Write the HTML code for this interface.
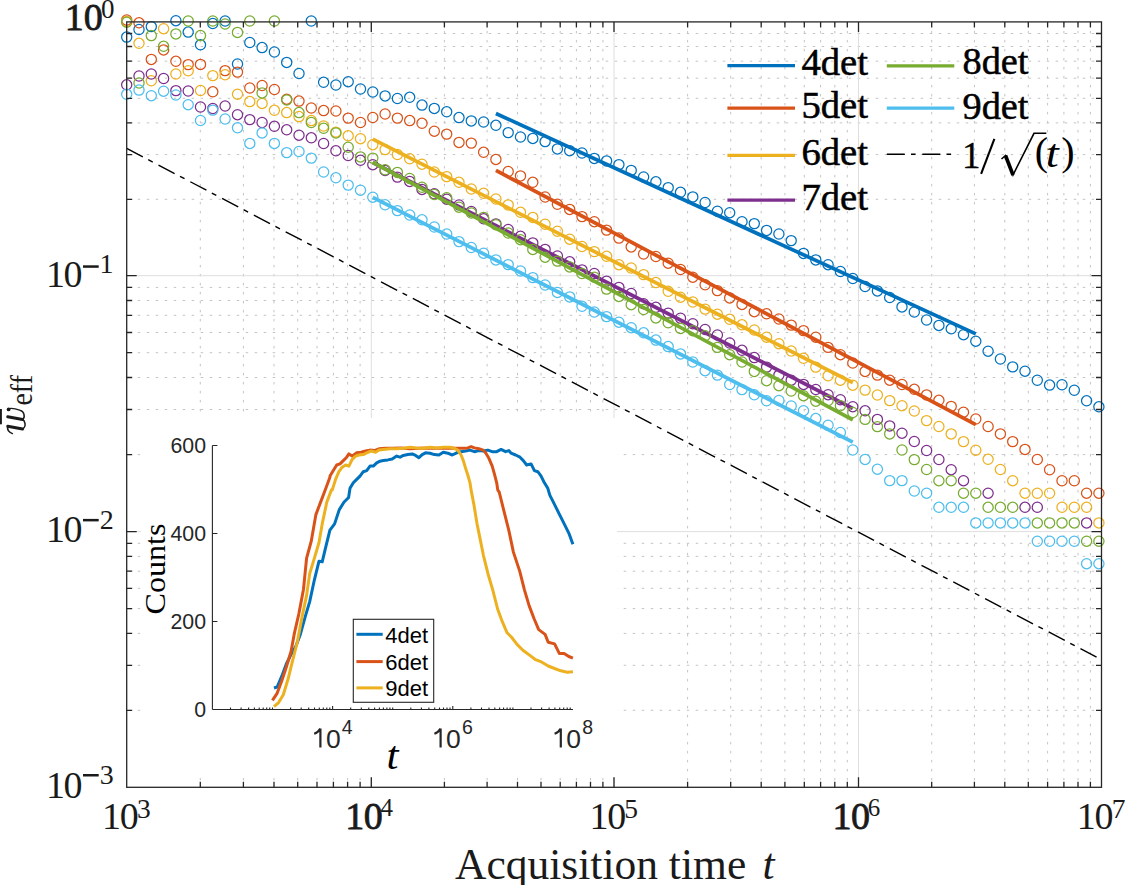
<!DOCTYPE html><html><head><meta charset="utf-8"><style>html,body{margin:0;padding:0;background:#fff;overflow:hidden}svg{display:block}text{font-family:"Liberation Serif",serif}.s{font-family:"Liberation Sans",sans-serif}</style></head><body>
<svg width="1125" height="885" viewBox="0 0 1125 885">
<rect width="1125" height="885" fill="#fff"/>
<path d="M200.3 21.9V787.3M243.4 21.9V787.3M274.0 21.9V787.3M297.7 21.9V787.3M317.0 21.9V787.3M333.4 21.9V787.3M347.6 21.9V787.3M360.1 21.9V787.3M444.4 21.9V787.3M487.1 21.9V787.3M517.5 21.9V787.3M541.0 21.9V787.3M560.2 21.9V787.3M576.4 21.9V787.3M590.5 21.9V787.3M602.9 21.9V787.3M687.6 21.9V787.3M730.7 21.9V787.3M761.2 21.9V787.3M784.9 21.9V787.3M804.3 21.9V787.3M820.6 21.9V787.3M834.8 21.9V787.3M847.3 21.9V787.3M931.7 21.9V787.3M974.4 21.9V787.3M1004.8 21.9V787.3M1028.3 21.9V787.3M1047.6 21.9V787.3M1063.9 21.9V787.3M1078.0 21.9V787.3M1090.4 21.9V787.3" stroke="#c4c4c4" stroke-width="1" stroke-dasharray="2.5 6.5" fill="none"/>
<path d="M126.7 710.3H1101.5M126.7 665.3H1101.5M126.7 633.4H1101.5M126.7 608.6H1101.5M126.7 588.3H1101.5M126.7 571.2H1101.5M126.7 556.4H1101.5M126.7 543.3H1101.5M126.7 454.6H1101.5M126.7 409.5H1101.5M126.7 377.5H1101.5M126.7 352.7H1101.5M126.7 332.5H1101.5M126.7 315.3H1101.5M126.7 300.5H1101.5M126.7 287.4H1101.5M126.7 199.3H1101.5M126.7 154.6H1101.5M126.7 122.9H1101.5M126.7 98.3H1101.5M126.7 78.2H1101.5M126.7 61.2H1101.5M126.7 46.5H1101.5M126.7 33.5H1101.5" stroke="#c4c4c4" stroke-width="1" stroke-dasharray="2.5 6.5" stroke-dashoffset="-2" fill="none"/>
<path d="M371.3 21.9V787.3M614.0 21.9V787.3M858.5 21.9V787.3M126.7 531.6H1101.5M126.7 275.7H1101.5" stroke="#dedede" stroke-width="1" fill="none"/>
<path d="M126.7 148.4L1101.5 659.7" stroke="#000" stroke-width="1.4" stroke-dasharray="18.2 6.1 5.1 6.5" fill="none"/>
<path d="M131.8 37.1a5.1 5.1 0 1 0 -10.2 0a5.1 5.1 0 1 0 10.2 0M144.1 29.5a5.1 5.1 0 1 0 -10.2 0a5.1 5.1 0 1 0 10.2 0M156.4 26.6a5.1 5.1 0 1 0 -10.2 0a5.1 5.1 0 1 0 10.2 0M181.0 20.7a5.1 5.1 0 1 0 -10.2 0a5.1 5.1 0 1 0 10.2 0M193.3 32.1a5.1 5.1 0 1 0 -10.2 0a5.1 5.1 0 1 0 10.2 0M205.6 44.8a5.1 5.1 0 1 0 -10.2 0a5.1 5.1 0 1 0 10.2 0M217.9 23.5a5.1 5.1 0 1 0 -10.2 0a5.1 5.1 0 1 0 10.2 0M230.2 21.0a5.1 5.1 0 1 0 -10.2 0a5.1 5.1 0 1 0 10.2 0M242.6 64.0a5.1 5.1 0 1 0 -10.2 0a5.1 5.1 0 1 0 10.2 0M254.9 42.5a5.1 5.1 0 1 0 -10.2 0a5.1 5.1 0 1 0 10.2 0M267.2 47.6a5.1 5.1 0 1 0 -10.2 0a5.1 5.1 0 1 0 10.2 0M279.5 52.0a5.1 5.1 0 1 0 -10.2 0a5.1 5.1 0 1 0 10.2 0M291.8 62.4a5.1 5.1 0 1 0 -10.2 0a5.1 5.1 0 1 0 10.2 0M304.1 73.5a5.1 5.1 0 1 0 -10.2 0a5.1 5.1 0 1 0 10.2 0M316.4 21.0a5.1 5.1 0 1 0 -10.2 0a5.1 5.1 0 1 0 10.2 0M328.7 82.3a5.1 5.1 0 1 0 -10.2 0a5.1 5.1 0 1 0 10.2 0M341.0 85.0a5.1 5.1 0 1 0 -10.2 0a5.1 5.1 0 1 0 10.2 0M353.3 81.7a5.1 5.1 0 1 0 -10.2 0a5.1 5.1 0 1 0 10.2 0M365.6 89.0a5.1 5.1 0 1 0 -10.2 0a5.1 5.1 0 1 0 10.2 0M377.9 92.0a5.1 5.1 0 1 0 -10.2 0a5.1 5.1 0 1 0 10.2 0M390.2 95.9a5.1 5.1 0 1 0 -10.2 0a5.1 5.1 0 1 0 10.2 0M402.5 98.5a5.1 5.1 0 1 0 -10.2 0a5.1 5.1 0 1 0 10.2 0M414.8 97.3a5.1 5.1 0 1 0 -10.2 0a5.1 5.1 0 1 0 10.2 0M427.1 105.1a5.1 5.1 0 1 0 -10.2 0a5.1 5.1 0 1 0 10.2 0M439.4 108.4a5.1 5.1 0 1 0 -10.2 0a5.1 5.1 0 1 0 10.2 0M451.8 111.8a5.1 5.1 0 1 0 -10.2 0a5.1 5.1 0 1 0 10.2 0M464.1 117.6a5.1 5.1 0 1 0 -10.2 0a5.1 5.1 0 1 0 10.2 0M476.4 120.9a5.1 5.1 0 1 0 -10.2 0a5.1 5.1 0 1 0 10.2 0M488.7 122.0a5.1 5.1 0 1 0 -10.2 0a5.1 5.1 0 1 0 10.2 0M501.0 125.3a5.1 5.1 0 1 0 -10.2 0a5.1 5.1 0 1 0 10.2 0M513.3 132.6a5.1 5.1 0 1 0 -10.2 0a5.1 5.1 0 1 0 10.2 0M525.6 137.0a5.1 5.1 0 1 0 -10.2 0a5.1 5.1 0 1 0 10.2 0M537.9 138.4a5.1 5.1 0 1 0 -10.2 0a5.1 5.1 0 1 0 10.2 0M550.2 141.6a5.1 5.1 0 1 0 -10.2 0a5.1 5.1 0 1 0 10.2 0M562.5 148.9a5.1 5.1 0 1 0 -10.2 0a5.1 5.1 0 1 0 10.2 0M574.8 150.7a5.1 5.1 0 1 0 -10.2 0a5.1 5.1 0 1 0 10.2 0M587.1 153.0a5.1 5.1 0 1 0 -10.2 0a5.1 5.1 0 1 0 10.2 0M599.4 158.4a5.1 5.1 0 1 0 -10.2 0a5.1 5.1 0 1 0 10.2 0M611.7 160.9a5.1 5.1 0 1 0 -10.2 0a5.1 5.1 0 1 0 10.2 0M624.0 164.6a5.1 5.1 0 1 0 -10.2 0a5.1 5.1 0 1 0 10.2 0M636.3 170.4a5.1 5.1 0 1 0 -10.2 0a5.1 5.1 0 1 0 10.2 0M648.7 177.0a5.1 5.1 0 1 0 -10.2 0a5.1 5.1 0 1 0 10.2 0M661.0 181.8a5.1 5.1 0 1 0 -10.2 0a5.1 5.1 0 1 0 10.2 0M673.3 187.6a5.1 5.1 0 1 0 -10.2 0a5.1 5.1 0 1 0 10.2 0M685.6 192.3a5.1 5.1 0 1 0 -10.2 0a5.1 5.1 0 1 0 10.2 0M697.9 196.9a5.1 5.1 0 1 0 -10.2 0a5.1 5.1 0 1 0 10.2 0M710.2 202.5a5.1 5.1 0 1 0 -10.2 0a5.1 5.1 0 1 0 10.2 0M722.5 211.2a5.1 5.1 0 1 0 -10.2 0a5.1 5.1 0 1 0 10.2 0M734.8 212.7a5.1 5.1 0 1 0 -10.2 0a5.1 5.1 0 1 0 10.2 0M747.1 221.7a5.1 5.1 0 1 0 -10.2 0a5.1 5.1 0 1 0 10.2 0M759.4 223.6a5.1 5.1 0 1 0 -10.2 0a5.1 5.1 0 1 0 10.2 0M771.7 230.4a5.1 5.1 0 1 0 -10.2 0a5.1 5.1 0 1 0 10.2 0M784.0 234.0a5.1 5.1 0 1 0 -10.2 0a5.1 5.1 0 1 0 10.2 0M796.3 240.6a5.1 5.1 0 1 0 -10.2 0a5.1 5.1 0 1 0 10.2 0M808.6 253.4a5.1 5.1 0 1 0 -10.2 0a5.1 5.1 0 1 0 10.2 0M820.9 259.9a5.1 5.1 0 1 0 -10.2 0a5.1 5.1 0 1 0 10.2 0M833.2 264.7a5.1 5.1 0 1 0 -10.2 0a5.1 5.1 0 1 0 10.2 0M845.5 271.5a5.1 5.1 0 1 0 -10.2 0a5.1 5.1 0 1 0 10.2 0M857.9 278.5a5.1 5.1 0 1 0 -10.2 0a5.1 5.1 0 1 0 10.2 0M870.2 286.5a5.1 5.1 0 1 0 -10.2 0a5.1 5.1 0 1 0 10.2 0M882.5 290.9a5.1 5.1 0 1 0 -10.2 0a5.1 5.1 0 1 0 10.2 0M894.8 297.5a5.1 5.1 0 1 0 -10.2 0a5.1 5.1 0 1 0 10.2 0M907.1 306.9a5.1 5.1 0 1 0 -10.2 0a5.1 5.1 0 1 0 10.2 0M919.4 312.0a5.1 5.1 0 1 0 -10.2 0a5.1 5.1 0 1 0 10.2 0M931.7 320.0a5.1 5.1 0 1 0 -10.2 0a5.1 5.1 0 1 0 10.2 0M944.0 325.4a5.1 5.1 0 1 0 -10.2 0a5.1 5.1 0 1 0 10.2 0M956.3 328.8a5.1 5.1 0 1 0 -10.2 0a5.1 5.1 0 1 0 10.2 0M968.6 334.7a5.1 5.1 0 1 0 -10.2 0a5.1 5.1 0 1 0 10.2 0M980.9 341.2a5.1 5.1 0 1 0 -10.2 0a5.1 5.1 0 1 0 10.2 0M993.2 351.2a5.1 5.1 0 1 0 -10.2 0a5.1 5.1 0 1 0 10.2 0M1005.5 359.0a5.1 5.1 0 1 0 -10.2 0a5.1 5.1 0 1 0 10.2 0M1017.8 366.9a5.1 5.1 0 1 0 -10.2 0a5.1 5.1 0 1 0 10.2 0M1030.1 371.2a5.1 5.1 0 1 0 -10.2 0a5.1 5.1 0 1 0 10.2 0M1042.4 380.2a5.1 5.1 0 1 0 -10.2 0a5.1 5.1 0 1 0 10.2 0M1054.7 385.1a5.1 5.1 0 1 0 -10.2 0a5.1 5.1 0 1 0 10.2 0M1067.1 384.7a5.1 5.1 0 1 0 -10.2 0a5.1 5.1 0 1 0 10.2 0M1079.4 390.2a5.1 5.1 0 1 0 -10.2 0a5.1 5.1 0 1 0 10.2 0M1091.7 400.8a5.1 5.1 0 1 0 -10.2 0a5.1 5.1 0 1 0 10.2 0M1104.0 406.8a5.1 5.1 0 1 0 -10.2 0a5.1 5.1 0 1 0 10.2 0" stroke="#0072BD" stroke-width="1.25" fill="none"/>
<path d="M495.9 113.5L975.8 333.9" stroke="#0072BD" stroke-width="3.7" fill="none"/>
<path d="M131.8 20.1a5.1 5.1 0 1 0 -10.2 0a5.1 5.1 0 1 0 10.2 0M144.1 22.8a5.1 5.1 0 1 0 -10.2 0a5.1 5.1 0 1 0 10.2 0M156.4 59.4a5.1 5.1 0 1 0 -10.2 0a5.1 5.1 0 1 0 10.2 0M168.7 49.9a5.1 5.1 0 1 0 -10.2 0a5.1 5.1 0 1 0 10.2 0M181.0 61.3a5.1 5.1 0 1 0 -10.2 0a5.1 5.1 0 1 0 10.2 0M193.3 64.6a5.1 5.1 0 1 0 -10.2 0a5.1 5.1 0 1 0 10.2 0M205.6 64.4a5.1 5.1 0 1 0 -10.2 0a5.1 5.1 0 1 0 10.2 0M217.9 91.8a5.1 5.1 0 1 0 -10.2 0a5.1 5.1 0 1 0 10.2 0M230.2 70.6a5.1 5.1 0 1 0 -10.2 0a5.1 5.1 0 1 0 10.2 0M242.6 72.1a5.1 5.1 0 1 0 -10.2 0a5.1 5.1 0 1 0 10.2 0M254.9 88.0a5.1 5.1 0 1 0 -10.2 0a5.1 5.1 0 1 0 10.2 0M267.2 85.5a5.1 5.1 0 1 0 -10.2 0a5.1 5.1 0 1 0 10.2 0M279.5 89.5a5.1 5.1 0 1 0 -10.2 0a5.1 5.1 0 1 0 10.2 0M291.8 99.2a5.1 5.1 0 1 0 -10.2 0a5.1 5.1 0 1 0 10.2 0M304.1 101.1a5.1 5.1 0 1 0 -10.2 0a5.1 5.1 0 1 0 10.2 0M316.4 108.0a5.1 5.1 0 1 0 -10.2 0a5.1 5.1 0 1 0 10.2 0M328.7 110.6a5.1 5.1 0 1 0 -10.2 0a5.1 5.1 0 1 0 10.2 0M341.0 111.0a5.1 5.1 0 1 0 -10.2 0a5.1 5.1 0 1 0 10.2 0M353.3 118.1a5.1 5.1 0 1 0 -10.2 0a5.1 5.1 0 1 0 10.2 0M365.6 122.5a5.1 5.1 0 1 0 -10.2 0a5.1 5.1 0 1 0 10.2 0M377.9 117.5a5.1 5.1 0 1 0 -10.2 0a5.1 5.1 0 1 0 10.2 0M390.2 114.0a5.1 5.1 0 1 0 -10.2 0a5.1 5.1 0 1 0 10.2 0M402.5 118.1a5.1 5.1 0 1 0 -10.2 0a5.1 5.1 0 1 0 10.2 0M414.8 120.6a5.1 5.1 0 1 0 -10.2 0a5.1 5.1 0 1 0 10.2 0M427.1 123.3a5.1 5.1 0 1 0 -10.2 0a5.1 5.1 0 1 0 10.2 0M439.4 131.2a5.1 5.1 0 1 0 -10.2 0a5.1 5.1 0 1 0 10.2 0M451.8 134.1a5.1 5.1 0 1 0 -10.2 0a5.1 5.1 0 1 0 10.2 0M464.1 142.4a5.1 5.1 0 1 0 -10.2 0a5.1 5.1 0 1 0 10.2 0M476.4 143.1a5.1 5.1 0 1 0 -10.2 0a5.1 5.1 0 1 0 10.2 0M488.7 152.3a5.1 5.1 0 1 0 -10.2 0a5.1 5.1 0 1 0 10.2 0M501.0 159.4a5.1 5.1 0 1 0 -10.2 0a5.1 5.1 0 1 0 10.2 0M513.3 171.5a5.1 5.1 0 1 0 -10.2 0a5.1 5.1 0 1 0 10.2 0M525.6 175.9a5.1 5.1 0 1 0 -10.2 0a5.1 5.1 0 1 0 10.2 0M537.9 182.3a5.1 5.1 0 1 0 -10.2 0a5.1 5.1 0 1 0 10.2 0M550.2 197.0a5.1 5.1 0 1 0 -10.2 0a5.1 5.1 0 1 0 10.2 0M562.5 204.3a5.1 5.1 0 1 0 -10.2 0a5.1 5.1 0 1 0 10.2 0M574.8 209.4a5.1 5.1 0 1 0 -10.2 0a5.1 5.1 0 1 0 10.2 0M587.1 216.6a5.1 5.1 0 1 0 -10.2 0a5.1 5.1 0 1 0 10.2 0M599.4 221.7a5.1 5.1 0 1 0 -10.2 0a5.1 5.1 0 1 0 10.2 0M611.7 230.1a5.1 5.1 0 1 0 -10.2 0a5.1 5.1 0 1 0 10.2 0M624.0 238.1a5.1 5.1 0 1 0 -10.2 0a5.1 5.1 0 1 0 10.2 0M636.3 246.9a5.1 5.1 0 1 0 -10.2 0a5.1 5.1 0 1 0 10.2 0M648.7 254.0a5.1 5.1 0 1 0 -10.2 0a5.1 5.1 0 1 0 10.2 0M661.0 256.5a5.1 5.1 0 1 0 -10.2 0a5.1 5.1 0 1 0 10.2 0M673.3 263.2a5.1 5.1 0 1 0 -10.2 0a5.1 5.1 0 1 0 10.2 0M685.6 269.5a5.1 5.1 0 1 0 -10.2 0a5.1 5.1 0 1 0 10.2 0M697.9 277.2a5.1 5.1 0 1 0 -10.2 0a5.1 5.1 0 1 0 10.2 0M710.2 284.8a5.1 5.1 0 1 0 -10.2 0a5.1 5.1 0 1 0 10.2 0M722.5 290.6a5.1 5.1 0 1 0 -10.2 0a5.1 5.1 0 1 0 10.2 0M734.8 297.9a5.1 5.1 0 1 0 -10.2 0a5.1 5.1 0 1 0 10.2 0M747.1 304.4a5.1 5.1 0 1 0 -10.2 0a5.1 5.1 0 1 0 10.2 0M759.4 311.7a5.1 5.1 0 1 0 -10.2 0a5.1 5.1 0 1 0 10.2 0M771.7 313.8a5.1 5.1 0 1 0 -10.2 0a5.1 5.1 0 1 0 10.2 0M784.0 319.0a5.1 5.1 0 1 0 -10.2 0a5.1 5.1 0 1 0 10.2 0M796.3 325.1a5.1 5.1 0 1 0 -10.2 0a5.1 5.1 0 1 0 10.2 0M808.6 330.6a5.1 5.1 0 1 0 -10.2 0a5.1 5.1 0 1 0 10.2 0M820.9 337.2a5.1 5.1 0 1 0 -10.2 0a5.1 5.1 0 1 0 10.2 0M833.2 347.4a5.1 5.1 0 1 0 -10.2 0a5.1 5.1 0 1 0 10.2 0M845.5 354.7a5.1 5.1 0 1 0 -10.2 0a5.1 5.1 0 1 0 10.2 0M857.9 363.0a5.1 5.1 0 1 0 -10.2 0a5.1 5.1 0 1 0 10.2 0M870.2 371.4a5.1 5.1 0 1 0 -10.2 0a5.1 5.1 0 1 0 10.2 0M882.5 375.1a5.1 5.1 0 1 0 -10.2 0a5.1 5.1 0 1 0 10.2 0M894.8 380.2a5.1 5.1 0 1 0 -10.2 0a5.1 5.1 0 1 0 10.2 0M907.1 384.5a5.1 5.1 0 1 0 -10.2 0a5.1 5.1 0 1 0 10.2 0M919.4 389.3a5.1 5.1 0 1 0 -10.2 0a5.1 5.1 0 1 0 10.2 0M931.7 394.9a5.1 5.1 0 1 0 -10.2 0a5.1 5.1 0 1 0 10.2 0M944.0 400.3a5.1 5.1 0 1 0 -10.2 0a5.1 5.1 0 1 0 10.2 0M956.3 406.4a5.1 5.1 0 1 0 -10.2 0a5.1 5.1 0 1 0 10.2 0M968.6 412.2a5.1 5.1 0 1 0 -10.2 0a5.1 5.1 0 1 0 10.2 0M980.9 419.0a5.1 5.1 0 1 0 -10.2 0a5.1 5.1 0 1 0 10.2 0M993.2 426.5a5.1 5.1 0 1 0 -10.2 0a5.1 5.1 0 1 0 10.2 0M1005.5 433.9a5.1 5.1 0 1 0 -10.2 0a5.1 5.1 0 1 0 10.2 0M1017.8 441.6a5.1 5.1 0 1 0 -10.2 0a5.1 5.1 0 1 0 10.2 0M1030.1 449.4a5.1 5.1 0 1 0 -10.2 0a5.1 5.1 0 1 0 10.2 0M1042.4 459.5a5.1 5.1 0 1 0 -10.2 0a5.1 5.1 0 1 0 10.2 0M1054.7 469.7a5.1 5.1 0 1 0 -10.2 0a5.1 5.1 0 1 0 10.2 0M1067.1 480.7a5.1 5.1 0 1 0 -10.2 0a5.1 5.1 0 1 0 10.2 0M1079.4 480.7a5.1 5.1 0 1 0 -10.2 0a5.1 5.1 0 1 0 10.2 0M1091.7 493.2a5.1 5.1 0 1 0 -10.2 0a5.1 5.1 0 1 0 10.2 0M1104.0 493.2a5.1 5.1 0 1 0 -10.2 0a5.1 5.1 0 1 0 10.2 0" stroke="#D95319" stroke-width="1.25" fill="none"/>
<path d="M495.9 170.4L975.8 424.6" stroke="#D95319" stroke-width="3.7" fill="none"/>
<path d="M131.8 21.5a5.1 5.1 0 1 0 -10.2 0a5.1 5.1 0 1 0 10.2 0M144.1 43.3a5.1 5.1 0 1 0 -10.2 0a5.1 5.1 0 1 0 10.2 0M156.4 80.8a5.1 5.1 0 1 0 -10.2 0a5.1 5.1 0 1 0 10.2 0M168.7 28.7a5.1 5.1 0 1 0 -10.2 0a5.1 5.1 0 1 0 10.2 0M181.0 74.0a5.1 5.1 0 1 0 -10.2 0a5.1 5.1 0 1 0 10.2 0M193.3 70.8a5.1 5.1 0 1 0 -10.2 0a5.1 5.1 0 1 0 10.2 0M205.6 90.5a5.1 5.1 0 1 0 -10.2 0a5.1 5.1 0 1 0 10.2 0M217.9 75.6a5.1 5.1 0 1 0 -10.2 0a5.1 5.1 0 1 0 10.2 0M230.2 74.8a5.1 5.1 0 1 0 -10.2 0a5.1 5.1 0 1 0 10.2 0M242.6 94.2a5.1 5.1 0 1 0 -10.2 0a5.1 5.1 0 1 0 10.2 0M254.9 101.6a5.1 5.1 0 1 0 -10.2 0a5.1 5.1 0 1 0 10.2 0M267.2 103.4a5.1 5.1 0 1 0 -10.2 0a5.1 5.1 0 1 0 10.2 0M279.5 110.3a5.1 5.1 0 1 0 -10.2 0a5.1 5.1 0 1 0 10.2 0M291.8 112.6a5.1 5.1 0 1 0 -10.2 0a5.1 5.1 0 1 0 10.2 0M304.1 116.6a5.1 5.1 0 1 0 -10.2 0a5.1 5.1 0 1 0 10.2 0M316.4 120.6a5.1 5.1 0 1 0 -10.2 0a5.1 5.1 0 1 0 10.2 0M328.7 126.0a5.1 5.1 0 1 0 -10.2 0a5.1 5.1 0 1 0 10.2 0M341.0 132.1a5.1 5.1 0 1 0 -10.2 0a5.1 5.1 0 1 0 10.2 0M353.3 135.8a5.1 5.1 0 1 0 -10.2 0a5.1 5.1 0 1 0 10.2 0M365.6 138.7a5.1 5.1 0 1 0 -10.2 0a5.1 5.1 0 1 0 10.2 0M377.9 144.7a5.1 5.1 0 1 0 -10.2 0a5.1 5.1 0 1 0 10.2 0M390.2 149.6a5.1 5.1 0 1 0 -10.2 0a5.1 5.1 0 1 0 10.2 0M402.5 154.5a5.1 5.1 0 1 0 -10.2 0a5.1 5.1 0 1 0 10.2 0M414.8 158.8a5.1 5.1 0 1 0 -10.2 0a5.1 5.1 0 1 0 10.2 0M427.1 164.2a5.1 5.1 0 1 0 -10.2 0a5.1 5.1 0 1 0 10.2 0M439.4 172.0a5.1 5.1 0 1 0 -10.2 0a5.1 5.1 0 1 0 10.2 0M451.8 176.6a5.1 5.1 0 1 0 -10.2 0a5.1 5.1 0 1 0 10.2 0M464.1 182.3a5.1 5.1 0 1 0 -10.2 0a5.1 5.1 0 1 0 10.2 0M476.4 189.0a5.1 5.1 0 1 0 -10.2 0a5.1 5.1 0 1 0 10.2 0M488.7 193.3a5.1 5.1 0 1 0 -10.2 0a5.1 5.1 0 1 0 10.2 0M501.0 199.0a5.1 5.1 0 1 0 -10.2 0a5.1 5.1 0 1 0 10.2 0M513.3 204.9a5.1 5.1 0 1 0 -10.2 0a5.1 5.1 0 1 0 10.2 0M525.6 212.3a5.1 5.1 0 1 0 -10.2 0a5.1 5.1 0 1 0 10.2 0M537.9 217.4a5.1 5.1 0 1 0 -10.2 0a5.1 5.1 0 1 0 10.2 0M550.2 224.2a5.1 5.1 0 1 0 -10.2 0a5.1 5.1 0 1 0 10.2 0M562.5 231.2a5.1 5.1 0 1 0 -10.2 0a5.1 5.1 0 1 0 10.2 0M574.8 239.2a5.1 5.1 0 1 0 -10.2 0a5.1 5.1 0 1 0 10.2 0M587.1 246.5a5.1 5.1 0 1 0 -10.2 0a5.1 5.1 0 1 0 10.2 0M599.4 251.6a5.1 5.1 0 1 0 -10.2 0a5.1 5.1 0 1 0 10.2 0M611.7 256.3a5.1 5.1 0 1 0 -10.2 0a5.1 5.1 0 1 0 10.2 0M624.0 264.7a5.1 5.1 0 1 0 -10.2 0a5.1 5.1 0 1 0 10.2 0M636.3 268.0a5.1 5.1 0 1 0 -10.2 0a5.1 5.1 0 1 0 10.2 0M648.7 274.6a5.1 5.1 0 1 0 -10.2 0a5.1 5.1 0 1 0 10.2 0M661.0 282.6a5.1 5.1 0 1 0 -10.2 0a5.1 5.1 0 1 0 10.2 0M673.3 291.3a5.1 5.1 0 1 0 -10.2 0a5.1 5.1 0 1 0 10.2 0M685.6 297.2a5.1 5.1 0 1 0 -10.2 0a5.1 5.1 0 1 0 10.2 0M697.9 302.0a5.1 5.1 0 1 0 -10.2 0a5.1 5.1 0 1 0 10.2 0M710.2 309.1a5.1 5.1 0 1 0 -10.2 0a5.1 5.1 0 1 0 10.2 0M722.5 314.2a5.1 5.1 0 1 0 -10.2 0a5.1 5.1 0 1 0 10.2 0M734.8 319.3a5.1 5.1 0 1 0 -10.2 0a5.1 5.1 0 1 0 10.2 0M747.1 324.8a5.1 5.1 0 1 0 -10.2 0a5.1 5.1 0 1 0 10.2 0M759.4 330.0a5.1 5.1 0 1 0 -10.2 0a5.1 5.1 0 1 0 10.2 0M771.7 337.2a5.1 5.1 0 1 0 -10.2 0a5.1 5.1 0 1 0 10.2 0M784.0 343.7a5.1 5.1 0 1 0 -10.2 0a5.1 5.1 0 1 0 10.2 0M796.3 351.0a5.1 5.1 0 1 0 -10.2 0a5.1 5.1 0 1 0 10.2 0M808.6 358.3a5.1 5.1 0 1 0 -10.2 0a5.1 5.1 0 1 0 10.2 0M820.9 367.1a5.1 5.1 0 1 0 -10.2 0a5.1 5.1 0 1 0 10.2 0M833.2 375.8a5.1 5.1 0 1 0 -10.2 0a5.1 5.1 0 1 0 10.2 0M845.5 380.2a5.1 5.1 0 1 0 -10.2 0a5.1 5.1 0 1 0 10.2 0M857.9 385.2a5.1 5.1 0 1 0 -10.2 0a5.1 5.1 0 1 0 10.2 0M870.2 390.1a5.1 5.1 0 1 0 -10.2 0a5.1 5.1 0 1 0 10.2 0M882.5 395.0a5.1 5.1 0 1 0 -10.2 0a5.1 5.1 0 1 0 10.2 0M894.8 400.6a5.1 5.1 0 1 0 -10.2 0a5.1 5.1 0 1 0 10.2 0M907.1 405.7a5.1 5.1 0 1 0 -10.2 0a5.1 5.1 0 1 0 10.2 0M919.4 411.0a5.1 5.1 0 1 0 -10.2 0a5.1 5.1 0 1 0 10.2 0M931.7 420.6a5.1 5.1 0 1 0 -10.2 0a5.1 5.1 0 1 0 10.2 0M944.0 426.5a5.1 5.1 0 1 0 -10.2 0a5.1 5.1 0 1 0 10.2 0M956.3 433.9a5.1 5.1 0 1 0 -10.2 0a5.1 5.1 0 1 0 10.2 0M968.6 441.6a5.1 5.1 0 1 0 -10.2 0a5.1 5.1 0 1 0 10.2 0M980.9 450.2a5.1 5.1 0 1 0 -10.2 0a5.1 5.1 0 1 0 10.2 0M993.2 459.3a5.1 5.1 0 1 0 -10.2 0a5.1 5.1 0 1 0 10.2 0M1005.5 469.5a5.1 5.1 0 1 0 -10.2 0a5.1 5.1 0 1 0 10.2 0M1017.8 480.7a5.1 5.1 0 1 0 -10.2 0a5.1 5.1 0 1 0 10.2 0M1030.1 493.2a5.1 5.1 0 1 0 -10.2 0a5.1 5.1 0 1 0 10.2 0M1042.4 493.2a5.1 5.1 0 1 0 -10.2 0a5.1 5.1 0 1 0 10.2 0M1054.7 493.2a5.1 5.1 0 1 0 -10.2 0a5.1 5.1 0 1 0 10.2 0M1067.1 507.3a5.1 5.1 0 1 0 -10.2 0a5.1 5.1 0 1 0 10.2 0M1079.4 507.3a5.1 5.1 0 1 0 -10.2 0a5.1 5.1 0 1 0 10.2 0M1091.7 507.3a5.1 5.1 0 1 0 -10.2 0a5.1 5.1 0 1 0 10.2 0M1104.0 522.9a5.1 5.1 0 1 0 -10.2 0a5.1 5.1 0 1 0 10.2 0" stroke="#EDB120" stroke-width="1.25" fill="none"/>
<path d="M372.8 139.1L852.8 382.7" stroke="#EDB120" stroke-width="3.7" fill="none"/>
<path d="M131.8 84.8a5.1 5.1 0 1 0 -10.2 0a5.1 5.1 0 1 0 10.2 0M144.1 76.0a5.1 5.1 0 1 0 -10.2 0a5.1 5.1 0 1 0 10.2 0M156.4 74.0a5.1 5.1 0 1 0 -10.2 0a5.1 5.1 0 1 0 10.2 0M168.7 78.5a5.1 5.1 0 1 0 -10.2 0a5.1 5.1 0 1 0 10.2 0M181.0 90.6a5.1 5.1 0 1 0 -10.2 0a5.1 5.1 0 1 0 10.2 0M193.3 91.0a5.1 5.1 0 1 0 -10.2 0a5.1 5.1 0 1 0 10.2 0M205.6 107.0a5.1 5.1 0 1 0 -10.2 0a5.1 5.1 0 1 0 10.2 0M217.9 108.5a5.1 5.1 0 1 0 -10.2 0a5.1 5.1 0 1 0 10.2 0M230.2 106.0a5.1 5.1 0 1 0 -10.2 0a5.1 5.1 0 1 0 10.2 0M242.6 114.7a5.1 5.1 0 1 0 -10.2 0a5.1 5.1 0 1 0 10.2 0M254.9 119.6a5.1 5.1 0 1 0 -10.2 0a5.1 5.1 0 1 0 10.2 0M267.2 122.5a5.1 5.1 0 1 0 -10.2 0a5.1 5.1 0 1 0 10.2 0M279.5 126.3a5.1 5.1 0 1 0 -10.2 0a5.1 5.1 0 1 0 10.2 0M291.8 129.8a5.1 5.1 0 1 0 -10.2 0a5.1 5.1 0 1 0 10.2 0M304.1 135.2a5.1 5.1 0 1 0 -10.2 0a5.1 5.1 0 1 0 10.2 0M316.4 137.8a5.1 5.1 0 1 0 -10.2 0a5.1 5.1 0 1 0 10.2 0M328.7 143.5a5.1 5.1 0 1 0 -10.2 0a5.1 5.1 0 1 0 10.2 0M341.0 150.8a5.1 5.1 0 1 0 -10.2 0a5.1 5.1 0 1 0 10.2 0M353.3 155.5a5.1 5.1 0 1 0 -10.2 0a5.1 5.1 0 1 0 10.2 0M365.6 160.3a5.1 5.1 0 1 0 -10.2 0a5.1 5.1 0 1 0 10.2 0M377.9 164.7a5.1 5.1 0 1 0 -10.2 0a5.1 5.1 0 1 0 10.2 0M390.2 170.5a5.1 5.1 0 1 0 -10.2 0a5.1 5.1 0 1 0 10.2 0M402.5 177.1a5.1 5.1 0 1 0 -10.2 0a5.1 5.1 0 1 0 10.2 0M414.8 181.4a5.1 5.1 0 1 0 -10.2 0a5.1 5.1 0 1 0 10.2 0M427.1 189.4a5.1 5.1 0 1 0 -10.2 0a5.1 5.1 0 1 0 10.2 0M439.4 193.8a5.1 5.1 0 1 0 -10.2 0a5.1 5.1 0 1 0 10.2 0M451.8 199.2a5.1 5.1 0 1 0 -10.2 0a5.1 5.1 0 1 0 10.2 0M464.1 205.0a5.1 5.1 0 1 0 -10.2 0a5.1 5.1 0 1 0 10.2 0M476.4 211.5a5.1 5.1 0 1 0 -10.2 0a5.1 5.1 0 1 0 10.2 0M488.7 218.8a5.1 5.1 0 1 0 -10.2 0a5.1 5.1 0 1 0 10.2 0M501.0 223.9a5.1 5.1 0 1 0 -10.2 0a5.1 5.1 0 1 0 10.2 0M513.3 229.5a5.1 5.1 0 1 0 -10.2 0a5.1 5.1 0 1 0 10.2 0M525.6 236.3a5.1 5.1 0 1 0 -10.2 0a5.1 5.1 0 1 0 10.2 0M537.9 242.9a5.1 5.1 0 1 0 -10.2 0a5.1 5.1 0 1 0 10.2 0M550.2 249.4a5.1 5.1 0 1 0 -10.2 0a5.1 5.1 0 1 0 10.2 0M562.5 256.0a5.1 5.1 0 1 0 -10.2 0a5.1 5.1 0 1 0 10.2 0M574.8 261.8a5.1 5.1 0 1 0 -10.2 0a5.1 5.1 0 1 0 10.2 0M587.1 269.9a5.1 5.1 0 1 0 -10.2 0a5.1 5.1 0 1 0 10.2 0M599.4 273.5a5.1 5.1 0 1 0 -10.2 0a5.1 5.1 0 1 0 10.2 0M611.7 281.1a5.1 5.1 0 1 0 -10.2 0a5.1 5.1 0 1 0 10.2 0M624.0 287.4a5.1 5.1 0 1 0 -10.2 0a5.1 5.1 0 1 0 10.2 0M636.3 293.5a5.1 5.1 0 1 0 -10.2 0a5.1 5.1 0 1 0 10.2 0M648.7 303.7a5.1 5.1 0 1 0 -10.2 0a5.1 5.1 0 1 0 10.2 0M661.0 307.3a5.1 5.1 0 1 0 -10.2 0a5.1 5.1 0 1 0 10.2 0M673.3 313.1a5.1 5.1 0 1 0 -10.2 0a5.1 5.1 0 1 0 10.2 0M685.6 318.2a5.1 5.1 0 1 0 -10.2 0a5.1 5.1 0 1 0 10.2 0M697.9 323.7a5.1 5.1 0 1 0 -10.2 0a5.1 5.1 0 1 0 10.2 0M710.2 329.5a5.1 5.1 0 1 0 -10.2 0a5.1 5.1 0 1 0 10.2 0M722.5 335.0a5.1 5.1 0 1 0 -10.2 0a5.1 5.1 0 1 0 10.2 0M734.8 343.0a5.1 5.1 0 1 0 -10.2 0a5.1 5.1 0 1 0 10.2 0M747.1 350.3a5.1 5.1 0 1 0 -10.2 0a5.1 5.1 0 1 0 10.2 0M759.4 357.6a5.1 5.1 0 1 0 -10.2 0a5.1 5.1 0 1 0 10.2 0M771.7 367.1a5.1 5.1 0 1 0 -10.2 0a5.1 5.1 0 1 0 10.2 0M784.0 375.1a5.1 5.1 0 1 0 -10.2 0a5.1 5.1 0 1 0 10.2 0M796.3 380.2a5.1 5.1 0 1 0 -10.2 0a5.1 5.1 0 1 0 10.2 0M808.6 384.4a5.1 5.1 0 1 0 -10.2 0a5.1 5.1 0 1 0 10.2 0M820.9 389.5a5.1 5.1 0 1 0 -10.2 0a5.1 5.1 0 1 0 10.2 0M833.2 394.7a5.1 5.1 0 1 0 -10.2 0a5.1 5.1 0 1 0 10.2 0M845.5 399.7a5.1 5.1 0 1 0 -10.2 0a5.1 5.1 0 1 0 10.2 0M857.9 406.7a5.1 5.1 0 1 0 -10.2 0a5.1 5.1 0 1 0 10.2 0M870.2 410.8a5.1 5.1 0 1 0 -10.2 0a5.1 5.1 0 1 0 10.2 0M882.5 419.4a5.1 5.1 0 1 0 -10.2 0a5.1 5.1 0 1 0 10.2 0M894.8 425.9a5.1 5.1 0 1 0 -10.2 0a5.1 5.1 0 1 0 10.2 0M907.1 433.2a5.1 5.1 0 1 0 -10.2 0a5.1 5.1 0 1 0 10.2 0M919.4 441.5a5.1 5.1 0 1 0 -10.2 0a5.1 5.1 0 1 0 10.2 0M931.7 450.5a5.1 5.1 0 1 0 -10.2 0a5.1 5.1 0 1 0 10.2 0M944.0 459.5a5.1 5.1 0 1 0 -10.2 0a5.1 5.1 0 1 0 10.2 0M956.3 469.7a5.1 5.1 0 1 0 -10.2 0a5.1 5.1 0 1 0 10.2 0M968.6 480.7a5.1 5.1 0 1 0 -10.2 0a5.1 5.1 0 1 0 10.2 0M993.2 493.2a5.1 5.1 0 1 0 -10.2 0a5.1 5.1 0 1 0 10.2 0M1030.1 507.3a5.1 5.1 0 1 0 -10.2 0a5.1 5.1 0 1 0 10.2 0M1042.4 507.3a5.1 5.1 0 1 0 -10.2 0a5.1 5.1 0 1 0 10.2 0M1091.7 522.9a5.1 5.1 0 1 0 -10.2 0a5.1 5.1 0 1 0 10.2 0" stroke="#7E2F8E" stroke-width="1.25" fill="none"/>
<path d="M372.8 162.5L852.8 408.3" stroke="#7E2F8E" stroke-width="3.7" fill="none"/>
<path d="M131.8 22.3a5.1 5.1 0 1 0 -10.2 0a5.1 5.1 0 1 0 10.2 0M144.1 83.0a5.1 5.1 0 1 0 -10.2 0a5.1 5.1 0 1 0 10.2 0M156.4 35.6a5.1 5.1 0 1 0 -10.2 0a5.1 5.1 0 1 0 10.2 0M168.7 46.3a5.1 5.1 0 1 0 -10.2 0a5.1 5.1 0 1 0 10.2 0M181.0 33.9a5.1 5.1 0 1 0 -10.2 0a5.1 5.1 0 1 0 10.2 0M193.3 21.0a5.1 5.1 0 1 0 -10.2 0a5.1 5.1 0 1 0 10.2 0M205.6 35.6a5.1 5.1 0 1 0 -10.2 0a5.1 5.1 0 1 0 10.2 0M217.9 21.0a5.1 5.1 0 1 0 -10.2 0a5.1 5.1 0 1 0 10.2 0M230.2 24.0a5.1 5.1 0 1 0 -10.2 0a5.1 5.1 0 1 0 10.2 0M242.6 32.4a5.1 5.1 0 1 0 -10.2 0a5.1 5.1 0 1 0 10.2 0M254.9 21.0a5.1 5.1 0 1 0 -10.2 0a5.1 5.1 0 1 0 10.2 0M267.2 92.9a5.1 5.1 0 1 0 -10.2 0a5.1 5.1 0 1 0 10.2 0M279.5 21.0a5.1 5.1 0 1 0 -10.2 0a5.1 5.1 0 1 0 10.2 0M291.8 100.0a5.1 5.1 0 1 0 -10.2 0a5.1 5.1 0 1 0 10.2 0M304.1 112.6a5.1 5.1 0 1 0 -10.2 0a5.1 5.1 0 1 0 10.2 0M316.4 122.5a5.1 5.1 0 1 0 -10.2 0a5.1 5.1 0 1 0 10.2 0M328.7 128.3a5.1 5.1 0 1 0 -10.2 0a5.1 5.1 0 1 0 10.2 0M341.0 133.0a5.1 5.1 0 1 0 -10.2 0a5.1 5.1 0 1 0 10.2 0M353.3 147.2a5.1 5.1 0 1 0 -10.2 0a5.1 5.1 0 1 0 10.2 0M365.6 156.9a5.1 5.1 0 1 0 -10.2 0a5.1 5.1 0 1 0 10.2 0M377.9 158.1a5.1 5.1 0 1 0 -10.2 0a5.1 5.1 0 1 0 10.2 0M390.2 169.8a5.1 5.1 0 1 0 -10.2 0a5.1 5.1 0 1 0 10.2 0M402.5 172.4a5.1 5.1 0 1 0 -10.2 0a5.1 5.1 0 1 0 10.2 0M414.8 178.5a5.1 5.1 0 1 0 -10.2 0a5.1 5.1 0 1 0 10.2 0M427.1 187.3a5.1 5.1 0 1 0 -10.2 0a5.1 5.1 0 1 0 10.2 0M439.4 194.5a5.1 5.1 0 1 0 -10.2 0a5.1 5.1 0 1 0 10.2 0M451.8 197.7a5.1 5.1 0 1 0 -10.2 0a5.1 5.1 0 1 0 10.2 0M464.1 207.2a5.1 5.1 0 1 0 -10.2 0a5.1 5.1 0 1 0 10.2 0M476.4 213.0a5.1 5.1 0 1 0 -10.2 0a5.1 5.1 0 1 0 10.2 0M488.7 217.4a5.1 5.1 0 1 0 -10.2 0a5.1 5.1 0 1 0 10.2 0M501.0 224.7a5.1 5.1 0 1 0 -10.2 0a5.1 5.1 0 1 0 10.2 0M513.3 233.0a5.1 5.1 0 1 0 -10.2 0a5.1 5.1 0 1 0 10.2 0M525.6 239.7a5.1 5.1 0 1 0 -10.2 0a5.1 5.1 0 1 0 10.2 0M537.9 249.4a5.1 5.1 0 1 0 -10.2 0a5.1 5.1 0 1 0 10.2 0M550.2 257.2a5.1 5.1 0 1 0 -10.2 0a5.1 5.1 0 1 0 10.2 0M562.5 261.1a5.1 5.1 0 1 0 -10.2 0a5.1 5.1 0 1 0 10.2 0M574.8 266.9a5.1 5.1 0 1 0 -10.2 0a5.1 5.1 0 1 0 10.2 0M587.1 273.5a5.1 5.1 0 1 0 -10.2 0a5.1 5.1 0 1 0 10.2 0M599.4 277.1a5.1 5.1 0 1 0 -10.2 0a5.1 5.1 0 1 0 10.2 0M611.7 289.1a5.1 5.1 0 1 0 -10.2 0a5.1 5.1 0 1 0 10.2 0M624.0 296.4a5.1 5.1 0 1 0 -10.2 0a5.1 5.1 0 1 0 10.2 0M636.3 304.7a5.1 5.1 0 1 0 -10.2 0a5.1 5.1 0 1 0 10.2 0M648.7 309.5a5.1 5.1 0 1 0 -10.2 0a5.1 5.1 0 1 0 10.2 0M661.0 317.9a5.1 5.1 0 1 0 -10.2 0a5.1 5.1 0 1 0 10.2 0M673.3 322.8a5.1 5.1 0 1 0 -10.2 0a5.1 5.1 0 1 0 10.2 0M685.6 328.4a5.1 5.1 0 1 0 -10.2 0a5.1 5.1 0 1 0 10.2 0M697.9 330.7a5.1 5.1 0 1 0 -10.2 0a5.1 5.1 0 1 0 10.2 0M710.2 335.8a5.1 5.1 0 1 0 -10.2 0a5.1 5.1 0 1 0 10.2 0M722.5 347.4a5.1 5.1 0 1 0 -10.2 0a5.1 5.1 0 1 0 10.2 0M734.8 354.7a5.1 5.1 0 1 0 -10.2 0a5.1 5.1 0 1 0 10.2 0M747.1 362.0a5.1 5.1 0 1 0 -10.2 0a5.1 5.1 0 1 0 10.2 0M759.4 371.4a5.1 5.1 0 1 0 -10.2 0a5.1 5.1 0 1 0 10.2 0M771.7 380.7a5.1 5.1 0 1 0 -10.2 0a5.1 5.1 0 1 0 10.2 0M784.0 385.7a5.1 5.1 0 1 0 -10.2 0a5.1 5.1 0 1 0 10.2 0M796.3 391.0a5.1 5.1 0 1 0 -10.2 0a5.1 5.1 0 1 0 10.2 0M808.6 395.7a5.1 5.1 0 1 0 -10.2 0a5.1 5.1 0 1 0 10.2 0M820.9 401.2a5.1 5.1 0 1 0 -10.2 0a5.1 5.1 0 1 0 10.2 0M833.2 400.5a5.1 5.1 0 1 0 -10.2 0a5.1 5.1 0 1 0 10.2 0M845.5 405.7a5.1 5.1 0 1 0 -10.2 0a5.1 5.1 0 1 0 10.2 0M857.9 412.5a5.1 5.1 0 1 0 -10.2 0a5.1 5.1 0 1 0 10.2 0M870.2 419.4a5.1 5.1 0 1 0 -10.2 0a5.1 5.1 0 1 0 10.2 0M882.5 426.6a5.1 5.1 0 1 0 -10.2 0a5.1 5.1 0 1 0 10.2 0M894.8 433.9a5.1 5.1 0 1 0 -10.2 0a5.1 5.1 0 1 0 10.2 0M907.1 450.0a5.1 5.1 0 1 0 -10.2 0a5.1 5.1 0 1 0 10.2 0M919.4 459.6a5.1 5.1 0 1 0 -10.2 0a5.1 5.1 0 1 0 10.2 0M931.7 469.5a5.1 5.1 0 1 0 -10.2 0a5.1 5.1 0 1 0 10.2 0M944.0 480.7a5.1 5.1 0 1 0 -10.2 0a5.1 5.1 0 1 0 10.2 0M956.3 480.7a5.1 5.1 0 1 0 -10.2 0a5.1 5.1 0 1 0 10.2 0M968.6 493.2a5.1 5.1 0 1 0 -10.2 0a5.1 5.1 0 1 0 10.2 0M980.9 493.2a5.1 5.1 0 1 0 -10.2 0a5.1 5.1 0 1 0 10.2 0M993.2 507.3a5.1 5.1 0 1 0 -10.2 0a5.1 5.1 0 1 0 10.2 0M1005.5 507.3a5.1 5.1 0 1 0 -10.2 0a5.1 5.1 0 1 0 10.2 0M1017.8 507.3a5.1 5.1 0 1 0 -10.2 0a5.1 5.1 0 1 0 10.2 0M1042.4 522.9a5.1 5.1 0 1 0 -10.2 0a5.1 5.1 0 1 0 10.2 0M1054.7 522.9a5.1 5.1 0 1 0 -10.2 0a5.1 5.1 0 1 0 10.2 0M1067.1 522.9a5.1 5.1 0 1 0 -10.2 0a5.1 5.1 0 1 0 10.2 0M1079.4 522.9a5.1 5.1 0 1 0 -10.2 0a5.1 5.1 0 1 0 10.2 0M1091.7 541.2a5.1 5.1 0 1 0 -10.2 0a5.1 5.1 0 1 0 10.2 0M1104.0 541.2a5.1 5.1 0 1 0 -10.2 0a5.1 5.1 0 1 0 10.2 0" stroke="#77AC30" stroke-width="1.25" fill="none"/>
<path d="M372.8 162.3L852.8 419.9" stroke="#77AC30" stroke-width="3.7" fill="none"/>
<path d="M131.8 94.3a5.1 5.1 0 1 0 -10.2 0a5.1 5.1 0 1 0 10.2 0M144.1 90.1a5.1 5.1 0 1 0 -10.2 0a5.1 5.1 0 1 0 10.2 0M156.4 95.7a5.1 5.1 0 1 0 -10.2 0a5.1 5.1 0 1 0 10.2 0M168.7 91.2a5.1 5.1 0 1 0 -10.2 0a5.1 5.1 0 1 0 10.2 0M181.0 95.0a5.1 5.1 0 1 0 -10.2 0a5.1 5.1 0 1 0 10.2 0M193.3 104.7a5.1 5.1 0 1 0 -10.2 0a5.1 5.1 0 1 0 10.2 0M205.6 120.5a5.1 5.1 0 1 0 -10.2 0a5.1 5.1 0 1 0 10.2 0M217.9 110.1a5.1 5.1 0 1 0 -10.2 0a5.1 5.1 0 1 0 10.2 0M230.2 119.0a5.1 5.1 0 1 0 -10.2 0a5.1 5.1 0 1 0 10.2 0M242.6 127.8a5.1 5.1 0 1 0 -10.2 0a5.1 5.1 0 1 0 10.2 0M254.9 143.4a5.1 5.1 0 1 0 -10.2 0a5.1 5.1 0 1 0 10.2 0M267.2 132.9a5.1 5.1 0 1 0 -10.2 0a5.1 5.1 0 1 0 10.2 0M279.5 143.4a5.1 5.1 0 1 0 -10.2 0a5.1 5.1 0 1 0 10.2 0M291.8 152.6a5.1 5.1 0 1 0 -10.2 0a5.1 5.1 0 1 0 10.2 0M304.1 151.5a5.1 5.1 0 1 0 -10.2 0a5.1 5.1 0 1 0 10.2 0M316.4 158.1a5.1 5.1 0 1 0 -10.2 0a5.1 5.1 0 1 0 10.2 0M328.7 172.0a5.1 5.1 0 1 0 -10.2 0a5.1 5.1 0 1 0 10.2 0M341.0 177.8a5.1 5.1 0 1 0 -10.2 0a5.1 5.1 0 1 0 10.2 0M353.3 185.1a5.1 5.1 0 1 0 -10.2 0a5.1 5.1 0 1 0 10.2 0M365.6 190.2a5.1 5.1 0 1 0 -10.2 0a5.1 5.1 0 1 0 10.2 0M377.9 197.2a5.1 5.1 0 1 0 -10.2 0a5.1 5.1 0 1 0 10.2 0M390.2 204.8a5.1 5.1 0 1 0 -10.2 0a5.1 5.1 0 1 0 10.2 0M402.5 210.6a5.1 5.1 0 1 0 -10.2 0a5.1 5.1 0 1 0 10.2 0M414.8 215.0a5.1 5.1 0 1 0 -10.2 0a5.1 5.1 0 1 0 10.2 0M427.1 219.8a5.1 5.1 0 1 0 -10.2 0a5.1 5.1 0 1 0 10.2 0M439.4 227.0a5.1 5.1 0 1 0 -10.2 0a5.1 5.1 0 1 0 10.2 0M451.8 234.0a5.1 5.1 0 1 0 -10.2 0a5.1 5.1 0 1 0 10.2 0M464.1 241.6a5.1 5.1 0 1 0 -10.2 0a5.1 5.1 0 1 0 10.2 0M476.4 247.5a5.1 5.1 0 1 0 -10.2 0a5.1 5.1 0 1 0 10.2 0M488.7 253.2a5.1 5.1 0 1 0 -10.2 0a5.1 5.1 0 1 0 10.2 0M501.0 259.9a5.1 5.1 0 1 0 -10.2 0a5.1 5.1 0 1 0 10.2 0M513.3 264.6a5.1 5.1 0 1 0 -10.2 0a5.1 5.1 0 1 0 10.2 0M525.6 271.0a5.1 5.1 0 1 0 -10.2 0a5.1 5.1 0 1 0 10.2 0M537.9 277.6a5.1 5.1 0 1 0 -10.2 0a5.1 5.1 0 1 0 10.2 0M550.2 285.0a5.1 5.1 0 1 0 -10.2 0a5.1 5.1 0 1 0 10.2 0M562.5 292.4a5.1 5.1 0 1 0 -10.2 0a5.1 5.1 0 1 0 10.2 0M574.8 296.9a5.1 5.1 0 1 0 -10.2 0a5.1 5.1 0 1 0 10.2 0M587.1 306.3a5.1 5.1 0 1 0 -10.2 0a5.1 5.1 0 1 0 10.2 0M599.4 312.0a5.1 5.1 0 1 0 -10.2 0a5.1 5.1 0 1 0 10.2 0M611.7 316.6a5.1 5.1 0 1 0 -10.2 0a5.1 5.1 0 1 0 10.2 0M624.0 322.2a5.1 5.1 0 1 0 -10.2 0a5.1 5.1 0 1 0 10.2 0M636.3 327.7a5.1 5.1 0 1 0 -10.2 0a5.1 5.1 0 1 0 10.2 0M648.7 332.8a5.1 5.1 0 1 0 -10.2 0a5.1 5.1 0 1 0 10.2 0M661.0 340.1a5.1 5.1 0 1 0 -10.2 0a5.1 5.1 0 1 0 10.2 0M673.3 346.6a5.1 5.1 0 1 0 -10.2 0a5.1 5.1 0 1 0 10.2 0M685.6 353.9a5.1 5.1 0 1 0 -10.2 0a5.1 5.1 0 1 0 10.2 0M697.9 362.0a5.1 5.1 0 1 0 -10.2 0a5.1 5.1 0 1 0 10.2 0M710.2 370.7a5.1 5.1 0 1 0 -10.2 0a5.1 5.1 0 1 0 10.2 0M722.5 375.1a5.1 5.1 0 1 0 -10.2 0a5.1 5.1 0 1 0 10.2 0M734.8 384.5a5.1 5.1 0 1 0 -10.2 0a5.1 5.1 0 1 0 10.2 0M747.1 389.6a5.1 5.1 0 1 0 -10.2 0a5.1 5.1 0 1 0 10.2 0M759.4 394.8a5.1 5.1 0 1 0 -10.2 0a5.1 5.1 0 1 0 10.2 0M771.7 400.8a5.1 5.1 0 1 0 -10.2 0a5.1 5.1 0 1 0 10.2 0M784.0 400.5a5.1 5.1 0 1 0 -10.2 0a5.1 5.1 0 1 0 10.2 0M796.3 406.0a5.1 5.1 0 1 0 -10.2 0a5.1 5.1 0 1 0 10.2 0M808.6 410.7a5.1 5.1 0 1 0 -10.2 0a5.1 5.1 0 1 0 10.2 0M820.9 418.6a5.1 5.1 0 1 0 -10.2 0a5.1 5.1 0 1 0 10.2 0M833.2 425.2a5.1 5.1 0 1 0 -10.2 0a5.1 5.1 0 1 0 10.2 0M845.5 432.5a5.1 5.1 0 1 0 -10.2 0a5.1 5.1 0 1 0 10.2 0M857.9 450.0a5.1 5.1 0 1 0 -10.2 0a5.1 5.1 0 1 0 10.2 0M870.2 459.4a5.1 5.1 0 1 0 -10.2 0a5.1 5.1 0 1 0 10.2 0M882.5 469.2a5.1 5.1 0 1 0 -10.2 0a5.1 5.1 0 1 0 10.2 0M894.8 480.6a5.1 5.1 0 1 0 -10.2 0a5.1 5.1 0 1 0 10.2 0M907.1 480.6a5.1 5.1 0 1 0 -10.2 0a5.1 5.1 0 1 0 10.2 0M919.4 491.0a5.1 5.1 0 1 0 -10.2 0a5.1 5.1 0 1 0 10.2 0M931.7 493.2a5.1 5.1 0 1 0 -10.2 0a5.1 5.1 0 1 0 10.2 0M944.0 507.3a5.1 5.1 0 1 0 -10.2 0a5.1 5.1 0 1 0 10.2 0M956.3 507.3a5.1 5.1 0 1 0 -10.2 0a5.1 5.1 0 1 0 10.2 0M968.6 507.3a5.1 5.1 0 1 0 -10.2 0a5.1 5.1 0 1 0 10.2 0M980.9 522.9a5.1 5.1 0 1 0 -10.2 0a5.1 5.1 0 1 0 10.2 0M993.2 522.9a5.1 5.1 0 1 0 -10.2 0a5.1 5.1 0 1 0 10.2 0M1005.5 522.9a5.1 5.1 0 1 0 -10.2 0a5.1 5.1 0 1 0 10.2 0M1017.8 522.9a5.1 5.1 0 1 0 -10.2 0a5.1 5.1 0 1 0 10.2 0M1030.1 522.9a5.1 5.1 0 1 0 -10.2 0a5.1 5.1 0 1 0 10.2 0M1042.4 541.2a5.1 5.1 0 1 0 -10.2 0a5.1 5.1 0 1 0 10.2 0M1054.7 541.2a5.1 5.1 0 1 0 -10.2 0a5.1 5.1 0 1 0 10.2 0M1067.1 541.2a5.1 5.1 0 1 0 -10.2 0a5.1 5.1 0 1 0 10.2 0M1079.4 541.2a5.1 5.1 0 1 0 -10.2 0a5.1 5.1 0 1 0 10.2 0M1091.7 563.7a5.1 5.1 0 1 0 -10.2 0a5.1 5.1 0 1 0 10.2 0M1104.0 563.7a5.1 5.1 0 1 0 -10.2 0a5.1 5.1 0 1 0 10.2 0" stroke="#4DBEEE" stroke-width="1.25" fill="none"/>
<path d="M372.8 197.4L852.8 442.2" stroke="#4DBEEE" stroke-width="3.7" fill="none"/>
<path d="M727.4 65.6H795" stroke="#0072BD" stroke-width="3.2"/>
<path d="M727.4 108.2H795" stroke="#D95319" stroke-width="3.2"/>
<path d="M727.4 155.3H795" stroke="#EDB120" stroke-width="3.2"/>
<path d="M727.4 200.1H795" stroke="#7E2F8E" stroke-width="3.2"/>
<path d="M886.8 65.8H954.3" stroke="#77AC30" stroke-width="3.2"/>
<path d="M886.8 108.1H954.3" stroke="#4DBEEE" stroke-width="3.2"/>
<path d="M886.8 154.3H954.3" stroke="#000" stroke-width="1.4" stroke-dasharray="18 6.2 4.6 6.7"/>
<text x="801.5" y="74.5" font-size="37" textLength="66.5" lengthAdjust="spacingAndGlyphs" fill="#000" stroke="#000" stroke-width="0.5">4det</text>
<text x="801.5" y="117.9" font-size="37" textLength="66.5" lengthAdjust="spacingAndGlyphs" fill="#000" stroke="#000" stroke-width="0.5">5det</text>
<text x="801.5" y="164.5" font-size="37" textLength="66.5" lengthAdjust="spacingAndGlyphs" fill="#000" stroke="#000" stroke-width="0.5">6det</text>
<text x="801.5" y="210.1" font-size="37" textLength="66.5" lengthAdjust="spacingAndGlyphs" fill="#000" stroke="#000" stroke-width="0.5">7det</text>
<text x="962.5" y="74.2" font-size="37" textLength="66" lengthAdjust="spacingAndGlyphs" fill="#000" stroke="#000" stroke-width="0.5">8det</text>
<text x="962.5" y="118.6" font-size="37" textLength="66" lengthAdjust="spacingAndGlyphs" fill="#000" stroke="#000" stroke-width="0.5">9det</text>
<text x="962" y="168" font-size="37" fill="#000" stroke="#000" stroke-width="0.3">1</text>
<path d="M994.4 138.9L981.1 173.9" stroke="#000" stroke-width="2.1" fill="none"/>
<path d="M1001.5 159L1005.5 155.5L1013 175L1034 133.3H1046.3" stroke="#000" stroke-width="1.6" fill="none" stroke-linejoin="miter"/>
<path d="M1005.5 155.5L1013 175" stroke="#000" stroke-width="3.6" fill="none"/>
<text x="1034.7" y="165.2" font-size="40" fill="#000">(</text>
<text x="1045.8" y="166.6" font-size="41" font-style="italic" fill="#000" textLength="13" lengthAdjust="spacingAndGlyphs">t</text>
<text x="1061.2" y="165.2" font-size="40" fill="#000">)</text>
<rect x="126.7" y="21.9" width="974.8" height="765.4" fill="none" stroke="#262626" stroke-width="1.3"/>
<path d="M200.3 787.3v-5.5M200.3 21.9v5.5M243.4 787.3v-5.5M243.4 21.9v5.5M274.0 787.3v-5.5M274.0 21.9v5.5M297.7 787.3v-5.5M297.7 21.9v5.5M317.0 787.3v-5.5M317.0 21.9v5.5M333.4 787.3v-5.5M333.4 21.9v5.5M347.6 787.3v-5.5M347.6 21.9v5.5M360.1 787.3v-5.5M360.1 21.9v5.5M371.3 787.3v-10M371.3 21.9v10M444.4 787.3v-5.5M444.4 21.9v5.5M487.1 787.3v-5.5M487.1 21.9v5.5M517.5 787.3v-5.5M517.5 21.9v5.5M541.0 787.3v-5.5M541.0 21.9v5.5M560.2 787.3v-5.5M560.2 21.9v5.5M576.4 787.3v-5.5M576.4 21.9v5.5M590.5 787.3v-5.5M590.5 21.9v5.5M602.9 787.3v-5.5M602.9 21.9v5.5M614.0 787.3v-10M614.0 21.9v10M687.6 787.3v-5.5M687.6 21.9v5.5M730.7 787.3v-5.5M730.7 21.9v5.5M761.2 787.3v-5.5M761.2 21.9v5.5M784.9 787.3v-5.5M784.9 21.9v5.5M804.3 787.3v-5.5M804.3 21.9v5.5M820.6 787.3v-5.5M820.6 21.9v5.5M834.8 787.3v-5.5M834.8 21.9v5.5M847.3 787.3v-5.5M847.3 21.9v5.5M858.5 787.3v-10M858.5 21.9v10M931.7 787.3v-5.5M931.7 21.9v5.5M974.4 787.3v-5.5M974.4 21.9v5.5M1004.8 787.3v-5.5M1004.8 21.9v5.5M1028.3 787.3v-5.5M1028.3 21.9v5.5M1047.6 787.3v-5.5M1047.6 21.9v5.5M1063.9 787.3v-5.5M1063.9 21.9v5.5M1078.0 787.3v-5.5M1078.0 21.9v5.5M1090.4 787.3v-5.5M1090.4 21.9v5.5M126.7 710.3h5.5M1101.5 710.3h-5.5M126.7 665.3h5.5M1101.5 665.3h-5.5M126.7 633.4h5.5M1101.5 633.4h-5.5M126.7 608.6h5.5M1101.5 608.6h-5.5M126.7 588.3h5.5M1101.5 588.3h-5.5M126.7 571.2h5.5M1101.5 571.2h-5.5M126.7 556.4h5.5M1101.5 556.4h-5.5M126.7 543.3h5.5M1101.5 543.3h-5.5M126.7 531.6h10M1101.5 531.6h-10M126.7 454.6h5.5M1101.5 454.6h-5.5M126.7 409.5h5.5M1101.5 409.5h-5.5M126.7 377.5h5.5M1101.5 377.5h-5.5M126.7 352.7h5.5M1101.5 352.7h-5.5M126.7 332.5h5.5M1101.5 332.5h-5.5M126.7 315.3h5.5M1101.5 315.3h-5.5M126.7 300.5h5.5M1101.5 300.5h-5.5M126.7 287.4h5.5M1101.5 287.4h-5.5M126.7 275.7h10M1101.5 275.7h-10M126.7 199.3h5.5M1101.5 199.3h-5.5M126.7 154.6h5.5M1101.5 154.6h-5.5M126.7 122.9h5.5M1101.5 122.9h-5.5M126.7 98.3h5.5M1101.5 98.3h-5.5M126.7 78.2h5.5M1101.5 78.2h-5.5M126.7 61.2h5.5M1101.5 61.2h-5.5M126.7 46.5h5.5M1101.5 46.5h-5.5M126.7 33.5h5.5M1101.5 33.5h-5.5" stroke="#262626" stroke-width="1.3" fill="none"/>
<text x="102.0" y="828.8" font-size="38" fill="#1a1a1a">1</text>
<text x="119.8" y="828.8" font-size="38" fill="#1a1a1a">0</text>
<text x="136.9" y="818.3" font-size="27.5" fill="#1a1a1a">3</text>
<text x="345.2" y="829.2" font-size="38" fill="#1a1a1a" stroke="#1a1a1a" stroke-width="0.8">1</text>
<text x="363.7" y="829.2" font-size="38" fill="#1a1a1a" stroke="#1a1a1a" stroke-width="0.8">0</text>
<text x="380.4" y="816.3" font-size="25" fill="#1a1a1a">4</text>
<text x="589.4" y="828.8" font-size="38" fill="#1a1a1a">1</text>
<text x="607.2" y="828.8" font-size="38" fill="#1a1a1a">0</text>
<text x="624.3" y="818.3" font-size="27.5" fill="#1a1a1a">5</text>
<text x="832.6" y="829.2" font-size="38" fill="#1a1a1a" stroke="#1a1a1a" stroke-width="0.8">1</text>
<text x="851.1" y="829.2" font-size="38" fill="#1a1a1a" stroke="#1a1a1a" stroke-width="0.8">0</text>
<text x="867.8" y="816.3" font-size="25" fill="#1a1a1a">6</text>
<text x="1076.8" y="828.8" font-size="38" fill="#1a1a1a">1</text>
<text x="1094.6" y="828.8" font-size="38" fill="#1a1a1a">0</text>
<text x="1111.7" y="818.3" font-size="27.5" fill="#1a1a1a">7</text>
<text x="45.9" y="286.5" font-size="38" fill="#1a1a1a">1</text>
<text x="63.5" y="286.5" font-size="38" fill="#1a1a1a">0</text>
<rect x="83" y="265.3" width="15.7" height="2.5" fill="#1a1a1a"/>
<text x="99.6" y="273.0" font-size="28" fill="#1a1a1a">1</text>
<text x="45.9" y="542.3" font-size="38" fill="#1a1a1a">1</text>
<text x="63.5" y="542.3" font-size="38" fill="#1a1a1a">0</text>
<rect x="83" y="518.9" width="15.7" height="2.5" fill="#1a1a1a"/>
<text x="99.8" y="529.1" font-size="28" fill="#1a1a1a">2</text>
<text x="45.9" y="797.8" font-size="38" fill="#1a1a1a">1</text>
<text x="63.5" y="797.8" font-size="38" fill="#1a1a1a">0</text>
<rect x="83" y="774.0" width="15.7" height="2.5" fill="#1a1a1a"/>
<text x="99.8" y="784.2" font-size="28" fill="#1a1a1a">3</text>
<text x="64.7" y="30.2" font-size="38" fill="#1a1a1a" stroke="#1a1a1a" stroke-width="0.8">1</text>
<text x="83.7" y="30.2" font-size="38" fill="#1a1a1a" stroke="#1a1a1a" stroke-width="0.8">0</text>
<text x="100.9" y="17.6" font-size="27" fill="#1a1a1a">0</text>
<text x="455" y="878.5" font-size="43.5" fill="#1a1a1a">Acquisition time</text>
<text x="762.4" y="878.5" font-size="43.5" font-style="italic" fill="#1a1a1a">t</text>
<path d="M12.4 433.6Q6.6 431.5 7.7 426.2" stroke="#1a1a1a" stroke-width="1.5" fill="none" stroke-linecap="round"/>
<path d="M7.7 426.2L22.6 429M22.6 419.5L7.7 416.7" stroke="#1a1a1a" stroke-width="2.9" fill="none" stroke-linecap="round"/>
<path d="M22.6 429Q25.6 427 25 423.5Q24.4 420.2 22.6 419.5C25.6 417.5 24 411 20.4 410.4C17 409.2 11 407.5 8.1 409" stroke="#1a1a1a" stroke-width="1.5" fill="none"/>
<circle cx="8.6" cy="409.4" r="1.9" fill="#1a1a1a"/>
<text transform="translate(26.4,435) rotate(-90)" x="29.4" y="5.3" font-size="31.5" textLength="30.7" lengthAdjust="spacingAndGlyphs" fill="#1a1a1a">eff</text>
<rect x="-1" y="409" width="2.9" height="15.3" fill="#1a1a1a"/>
<rect x="141" y="418" width="476" height="359" fill="#fff"/>
<path d="M274.0 688.0L277.1 687.0L281.8 676.2L286.4 663.7L291.1 654.4L295.7 646.6L300.4 634.2L305.1 617.1L309.7 601.6L314.4 579.8L319.0 561.2L322.2 561.8L325.3 548.8L329.9 530.1L334.6 523.9L339.2 509.9L343.9 502.2L348.6 497.5L350.0 488.3L353.3 482.8L356.7 479.4L360.0 476.1L363.3 471.7L366.7 470.6L370.0 466.1L373.3 466.1L376.7 462.8L380.0 461.2L383.3 460.6L387.8 459.9L392.2 459.0L396.7 456.1L400.0 457.2L403.3 455.4L407.8 454.6L412.2 453.9L415.6 455.4L418.9 457.7L422.2 454.6L425.6 452.8L430.0 453.2L434.4 454.6L438.9 455.0L443.3 452.3L447.8 453.2L452.2 455.0L456.7 452.8L461.1 451.7L465.6 451.0L470.0 450.1L474.4 451.7L478.9 450.6L483.3 451.0L487.8 450.1L492.2 451.7L496.7 451.7L501.1 449.4L505.6 451.7L508.9 450.6L511.1 453.2L515.6 455.0L520.0 457.2L523.3 460.6L526.7 465.0L531.1 463.9L534.4 470.6L537.8 471.7L541.1 476.1L544.4 482.8L547.8 488.3L549.8 495.1L554.6 504.6L559.3 514.1L564.1 523.6L568.8 533.1L572.9 544.2" stroke="#0072BD" stroke-width="3" fill="none" stroke-linejoin="round"/>
<path d="M272.4 700.4L277.1 693.3L281.8 680.8L286.4 666.8L291.1 651.3L294.2 634.2L298.8 614.0L303.5 589.2L306.6 558.1L311.3 541.0L315.9 514.6L320.6 502.1L325.3 489.7L329.9 477.3L330.0 476.1L333.3 470.6L336.7 465.0L340.0 463.9L343.3 460.6L346.7 457.2L348.9 453.9L352.2 456.1L356.7 452.8L361.1 452.3L365.6 451.0L370.0 450.1L374.4 450.6L378.9 448.8L385.6 448.3L392.2 448.3L401.1 447.9L410.0 448.8L418.9 448.3L427.8 447.9L436.7 448.3L445.6 447.9L454.4 448.3L463.3 448.3L467.8 447.9L471.1 446.6L474.4 447.9L478.9 448.8L483.3 450.1L485.6 452.8L488.9 458.3L492.2 466.1L494.4 473.9L496.7 482.8L497.8 490.1L499.2 492.0L503.9 510.9L508.7 529.9L513.4 552.1L519.7 571.1L524.5 590.1L529.2 605.9L534.0 618.5L538.7 629.6L545.1 634.4L548.2 642.3L554.6 643.9L559.3 653.4L564.1 653.4L568.8 656.5L572.9 658.1" stroke="#D95319" stroke-width="3" fill="none" stroke-linejoin="round"/>
<path d="M274.0 706.6L278.6 702.6L283.3 694.8L288.0 679.3L292.6 660.6L297.3 642.0L302.0 617.1L306.6 595.4L309.7 573.6L314.4 558.1L319.0 542.5L322.2 523.9L326.8 502.1L331.5 489.7L332.2 490.1L335.6 479.4L338.9 471.7L342.2 467.2L345.6 465.0L348.9 466.1L352.2 459.4L355.6 456.1L358.9 455.0L363.3 454.6L366.7 452.8L371.1 451.0L375.6 452.3L378.9 450.1L383.3 449.4L390.0 448.8L396.7 448.8L403.3 448.3L410.0 447.2L416.7 447.9L423.3 448.3L430.0 447.2L436.7 447.9L443.3 447.2L450.0 447.2L454.4 448.3L457.8 450.1L461.1 455.0L463.3 460.6L465.6 468.3L467.8 475.0L470.0 482.8L471.1 490.1L473.9 504.6L477.0 523.6L480.2 539.4L483.4 555.3L488.1 574.2L492.8 590.1L497.6 609.0L502.3 621.7L507.1 632.8L511.8 637.5L516.6 643.9L522.9 650.2L529.2 654.9L535.6 659.7L541.9 662.2L548.2 666.0L554.6 668.5L560.9 670.8L567.2 672.3L572.9 671.7" stroke="#EDB120" stroke-width="3" fill="none" stroke-linejoin="round"/>
<path d="M212.4 709.5H573.0M212.4 709.5V445.5M212.4 709.5h5M212.4 621.5h5M212.4 533.5h5M212.4 445.5h5M212.4 709.5v-3.5M230.5 709.5v-2M241.1 709.5v-2M248.6 709.5v-2M254.4 709.5v-2M259.2 709.5v-2M263.2 709.5v-2M266.7 709.5v-2M269.7 709.5v-2M272.5 709.5v-2M290.6 709.5v-2M301.2 709.5v-2M308.7 709.5v-2M314.5 709.5v-2M319.3 709.5v-2M323.3 709.5v-2M326.8 709.5v-2M329.8 709.5v-2M332.6 709.5v-3.5M350.7 709.5v-2M361.3 709.5v-2M368.8 709.5v-2M374.6 709.5v-2M379.4 709.5v-2M383.4 709.5v-2M386.9 709.5v-2M389.9 709.5v-2M392.7 709.5v-2M410.8 709.5v-2M421.4 709.5v-2M428.9 709.5v-2M434.7 709.5v-2M439.5 709.5v-2M443.5 709.5v-2M447.0 709.5v-2M450.0 709.5v-2M452.8 709.5v-3.5M470.9 709.5v-2M481.5 709.5v-2M489.0 709.5v-2M494.8 709.5v-2M499.6 709.5v-2M503.6 709.5v-2M507.1 709.5v-2M510.1 709.5v-2M512.9 709.5v-2M531.0 709.5v-2M541.6 709.5v-2M549.1 709.5v-2M554.9 709.5v-2M559.7 709.5v-2M563.7 709.5v-2M567.2 709.5v-2M570.2 709.5v-2" stroke="#262626" stroke-width="1.1" fill="none"/>
<text class="s" x="206" y="717.0" font-size="21.3" text-anchor="end" fill="#262626">0</text>
<text class="s" x="206" y="629.0" font-size="21.3" text-anchor="end" fill="#262626">200</text>
<text class="s" x="206" y="541.0" font-size="21.3" text-anchor="end" fill="#262626">400</text>
<text class="s" x="206" y="453.0" font-size="21.3" text-anchor="end" fill="#262626">600</text>
<path d="M320.4 728.4V747.6M314.2 733.8Q318.0 732.6 320.4 728.6" stroke="#262626" stroke-width="2.2" fill="none"/>
<text class="s" x="325.9" y="747.6" font-size="26.5" fill="#262626">0</text>
<text class="s" x="341.8" y="733.5" font-size="19.5" fill="#262626">4</text>
<path d="M440.6 728.4V747.6M434.4 733.8Q438.2 732.6 440.6 728.6" stroke="#262626" stroke-width="2.2" fill="none"/>
<text class="s" x="446.1" y="747.6" font-size="26.5" fill="#262626">0</text>
<text class="s" x="462.0" y="733.5" font-size="19.5" fill="#262626">6</text>
<path d="M560.8 728.4V747.6M554.6 733.8Q558.4 732.6 560.8 728.6" stroke="#262626" stroke-width="2.2" fill="none"/>
<text class="s" x="566.3" y="747.6" font-size="26.5" fill="#262626">0</text>
<text class="s" x="582.2" y="733.5" font-size="19.5" fill="#262626">8</text>
<text x="386.5" y="768.5" font-size="40" font-style="italic" fill="#000" textLength="12" lengthAdjust="spacingAndGlyphs">t</text>
<text transform="translate(164.7,614.5) rotate(-90)" x="0" y="0" font-size="30" textLength="91" lengthAdjust="spacingAndGlyphs" fill="#000">Counts</text>
<rect x="353.3" y="619.3" width="80.4" height="83" fill="#fff" stroke="#262626" stroke-width="1.1"/>
<path d="M356.4 634.3H382.7" stroke="#0072BD" stroke-width="3"/>
<text class="s" x="385.2" y="642.5" font-size="22" fill="#000">4det</text>
<path d="M356.4 661.6H382.7" stroke="#D95319" stroke-width="3"/>
<text class="s" x="385.2" y="669.8" font-size="22" fill="#000">6det</text>
<path d="M356.4 687.9H382.7" stroke="#EDB120" stroke-width="3"/>
<text class="s" x="385.2" y="696.1" font-size="22" fill="#000">9det</text>
</svg></body></html>
